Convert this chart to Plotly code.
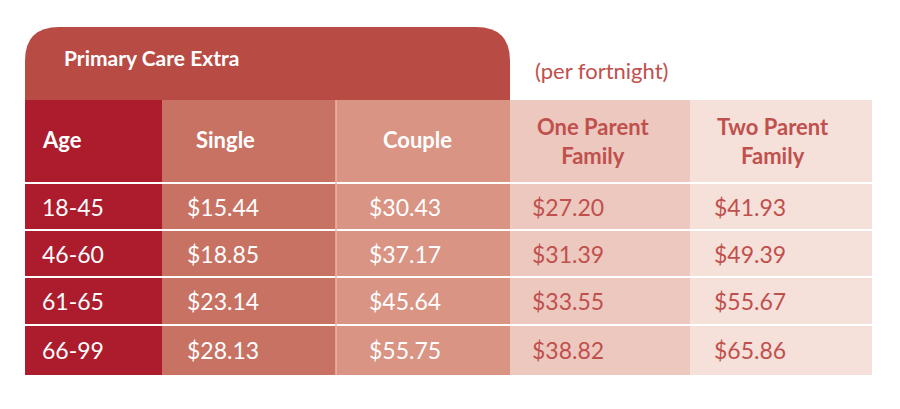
import plotly.graph_objects as go

title = "Primary Care Extra"
subtitle = "(per fortnight)"
columns = ["Age", "Single", "Couple", "One Parent<br>Family", "Two Parent<br>Family"]
ages = ["18-45", "46-60", "61-65", "66-99"]
single = ["$15.44", "$18.85", "$23.14", "$28.13"]
couple = ["$30.43", "$37.17", "$45.64", "$55.75"]
one_parent = ["$27.20", "$31.39", "$33.55", "$38.82"]
two_parent = ["$41.93", "$49.39", "$55.67", "$65.86"]

col_edges = [25, 162, 336, 510, 690, 872]
col_fill = ["#ac1c2c", "#c87264", "#d99484", "#edc8bf", "#f6e0da"]
col_text = ["white", "white", "white", "#c0504d", "#c0504d"]
head_x = [40, 225, 417, 593, 773]
head_anchor = ["left", "center", "center", "center", "center"]
val_x = [40, 185, 367, 530, 712]
row_edges = [100, 183, 230, 277, 325, 375]

fig = go.Figure()
fig.add_trace(go.Scatter(x=[0], y=[0], mode="markers", marker=dict(opacity=0), hoverinfo="skip"))
shapes = []
r = 34
shapes.append(dict(type="path", xref="x", yref="y", line=dict(width=0), fillcolor="#b94b45",
                   path=f"M 25 101 L 25 {27+r} Q 25 27 {25+r} 27 L {510-r} 27 Q 510 27 510 {27+r} L 510 101 Z"))
for i in range(5):
    shapes.append(dict(type="rect", xref="x", yref="y", x0=col_edges[i], x1=col_edges[i+1],
                       y0=row_edges[0], y1=row_edges[-1], fillcolor=col_fill[i], line=dict(width=0)))
for y in row_edges[1:-1]:
    shapes.append(dict(type="line", xref="x", yref="y", x0=25, x1=872, y0=y, y1=y,
                       line=dict(color="white", width=2)))
shapes.append(dict(type="line", xref="x", yref="y", x0=336, x1=336, y0=100, y1=375,
                   line=dict(color="#e8b4a8", width=1.5)))

ann = [dict(x=62, y=57, text=f"<b>{title}</b>", showarrow=False, xanchor="left",
            font=dict(size=21, color="white", family="Lato")),
       dict(x=533, y=70, text=subtitle, showarrow=False, xanchor="left",
            font=dict(size=22, color="#c0504d", family="Lato")),
       ]
for i, c in enumerate(columns):
    ann.append(dict(x=head_x[i], y=139 if i < 3 else 141, text=f"<b>{c}</b>", showarrow=False,
                    xanchor=head_anchor[i], font=dict(size=22, color=col_text[i], family="Lato")))
data = [ages, single, couple, one_parent, two_parent]
for i, col in enumerate(data):
    for j, v in enumerate(col):
        yc = (row_edges[j+1] + row_edges[j+2]) / 2
        ann.append(dict(x=val_x[i], y=yc, text=v, showarrow=False, xanchor="left",
                        font=dict(size=23, color=col_text[i], family="Lato")))

fig.update_layout(width=900, height=409, margin=dict(l=0, r=0, t=0, b=0),
                  plot_bgcolor="white", paper_bgcolor="white", shapes=shapes, annotations=ann,
                  showlegend=False,
                  xaxis=dict(range=[8, 908], visible=False, fixedrange=True),
                  yaxis=dict(range=[417, 8], visible=False, fixedrange=True))
fig.write_html("out.html")
